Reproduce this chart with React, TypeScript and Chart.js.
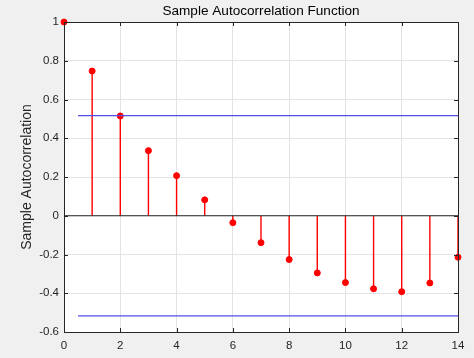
import React, { useEffect, useRef } from "react";
import { Chart, registerables } from "chart.js";

Chart.register(...registerables);

const lags = [0, 1, 2, 3, 4, 5, 6, 7, 8, 9, 10, 11, 12, 13, 14];
const acf = [1, 0.747, 0.515, 0.336, 0.207, 0.082, -0.036, -0.139, -0.226, -0.295, -0.345, -0.377, -0.392, -0.347, -0.214];
const upperBound = 0.5164;
const lowerBound = -0.5164;
const boundStart = 0.5;
const xTicks = [0, 2, 4, 6, 8, 10, 12, 14];
const yTicks = [-0.6, -0.4, -0.2, 0, 0.2, 0.4, 0.6, 0.8, 1];
const titleText = "Sample Autocorrelation Function";
const yLabelText = "Sample Autocorrelation";

const FONT = "'Liberation Sans', Arial, Helvetica, sans-serif";
const INK = "#262626";

const framePlugin = {
  id: "frame",
  beforeDraw(chart: any) {
    const { ctx, chartArea: a } = chart;
    ctx.save();
    ctx.fillStyle = "#f0f0f0";
    ctx.fillRect(0, 0, chart.width, chart.height);
    ctx.fillStyle = "#ffffff";
    ctx.fillRect(a.left, a.top, a.right - a.left, a.bottom - a.top);
    ctx.restore();
  },
  afterDraw(chart: any) {
    const { ctx, chartArea: a, scales } = chart;
    ctx.save();
    ctx.strokeStyle = INK;
    ctx.lineWidth = 1;
    ctx.strokeRect(Math.round(a.left) + 0.5, Math.round(a.top) + 0.5, Math.round(a.right - a.left), Math.round(a.bottom - a.top));
    const tl = 4;
    ctx.beginPath();
    xTicks.forEach((t) => {
      const x = Math.round(scales.x.getPixelForValue(t)) + 0.5;
      ctx.moveTo(x, a.bottom);
      ctx.lineTo(x, a.bottom - tl);
      ctx.moveTo(x, a.top);
      ctx.lineTo(x, a.top + tl);
    });
    yTicks.forEach((t) => {
      const y = Math.round(scales.y.getPixelForValue(t)) + 0.5;
      ctx.moveTo(a.left, y);
      ctx.lineTo(a.left + tl, y);
      ctx.moveTo(a.right, y);
      ctx.lineTo(a.right - tl, y);
    });
    ctx.stroke();
    // title
    ctx.fillStyle = "#000000";
    ctx.font = `13.6px ${FONT}`;
    ctx.textAlign = "center";
    ctx.textBaseline = "middle";
    ctx.fillText(titleText, (a.left + a.right) / 2, 11);
    // y label
    ctx.fillStyle = INK;
    ctx.font = `14px ${FONT}`;
    ctx.translate(27.5, (a.top + a.bottom) / 2);
    ctx.rotate(-Math.PI / 2);
    ctx.fillText(yLabelText, 0, 0);
    ctx.restore();
  },
};

export default function App() {
  const ref = useRef<HTMLCanvasElement>(null);
  useEffect(() => {
    document.body.style.margin = "0";
    const stems = lags.flatMap((l, i) => [
      { x: l, y: 0 },
      { x: l, y: acf[i] },
      { x: l, y: null },
    ]);
    const points = lags.map((l, i) => ({ x: l, y: acf[i] }));
    const chart = new Chart(ref.current as HTMLCanvasElement, {
      type: "scatter",
      data: {
        datasets: [
          {
            type: "line",
            data: [
              { x: 0, y: 0 },
              { x: 14, y: 0 },
            ],
            borderColor: INK,
            borderWidth: 1.2,
            pointRadius: 0,
          },
          {
            type: "line",
            data: [
              { x: boundStart, y: upperBound },
              { x: 14, y: upperBound },
            ],
            borderColor: "#5050e6",
            borderWidth: 1.2,
            pointRadius: 0,
          },
          {
            type: "line",
            data: [
              { x: boundStart, y: lowerBound },
              { x: 14, y: lowerBound },
            ],
            borderColor: "#5050e6",
            borderWidth: 1.2,
            pointRadius: 0,
          },
          {
            type: "line",
            data: stems as any,
            borderColor: "#ff0000",
            borderWidth: 1.4,
            pointRadius: 0,
            spanGaps: false,
          },
          {
            type: "scatter",
            data: points,
            backgroundColor: "#ff0000",
            borderColor: "#ff0000",
            pointRadius: 3,
            clip: false as any,
          },
        ],
      },
      options: {
        animation: false,
        responsive: false,
        events: [],
        layout: { padding: { left: 0, top: 22, right: 16, bottom: 0 } },
        plugins: { legend: { display: false }, tooltip: { enabled: false } },
        scales: {
          x: {
            type: "linear",
            min: 0,
            max: 14,
            afterFit(s: any) {
              s.height = 26;
            },
            afterBuildTicks(s: any) {
              s.ticks = xTicks.map((v) => ({ value: v }));
            },
            grid: { color: "#e3e3e3", drawTicks: false, lineWidth: 1 },
            border: { display: false },
            ticks: {
              padding: 7,
              color: INK,
              font: { family: FONT, size: 11.5 },
              maxRotation: 0,
              autoSkip: false,
              callback: (v: any) => String(v),
            },
          },
          y: {
            type: "linear",
            min: -0.6,
            max: 1,
            afterFit(s: any) {
              s.width = 64;
            },
            afterBuildTicks(s: any) {
              s.ticks = yTicks.map((v) => ({ value: v }));
            },
            grid: { color: "#e3e3e3", drawTicks: false, lineWidth: 1 },
            border: { display: false },
            ticks: {
              padding: 5,
              color: INK,
              font: { family: FONT, size: 11.5 },
              autoSkip: false,
              callback: (v: any) => String(Math.round(v * 10) / 10),
            },
          },
        },
      },
      plugins: [framePlugin],
    } as any);
    return () => chart.destroy();
  }, []);
  return (
    <div style={{ position: "absolute", left: 0, top: 0, width: 474, height: 358, background: "#f0f0f0" }}>
      <canvas ref={ref} width={474} height={358} style={{ display: "block" }} />
    </div>
  );
}
